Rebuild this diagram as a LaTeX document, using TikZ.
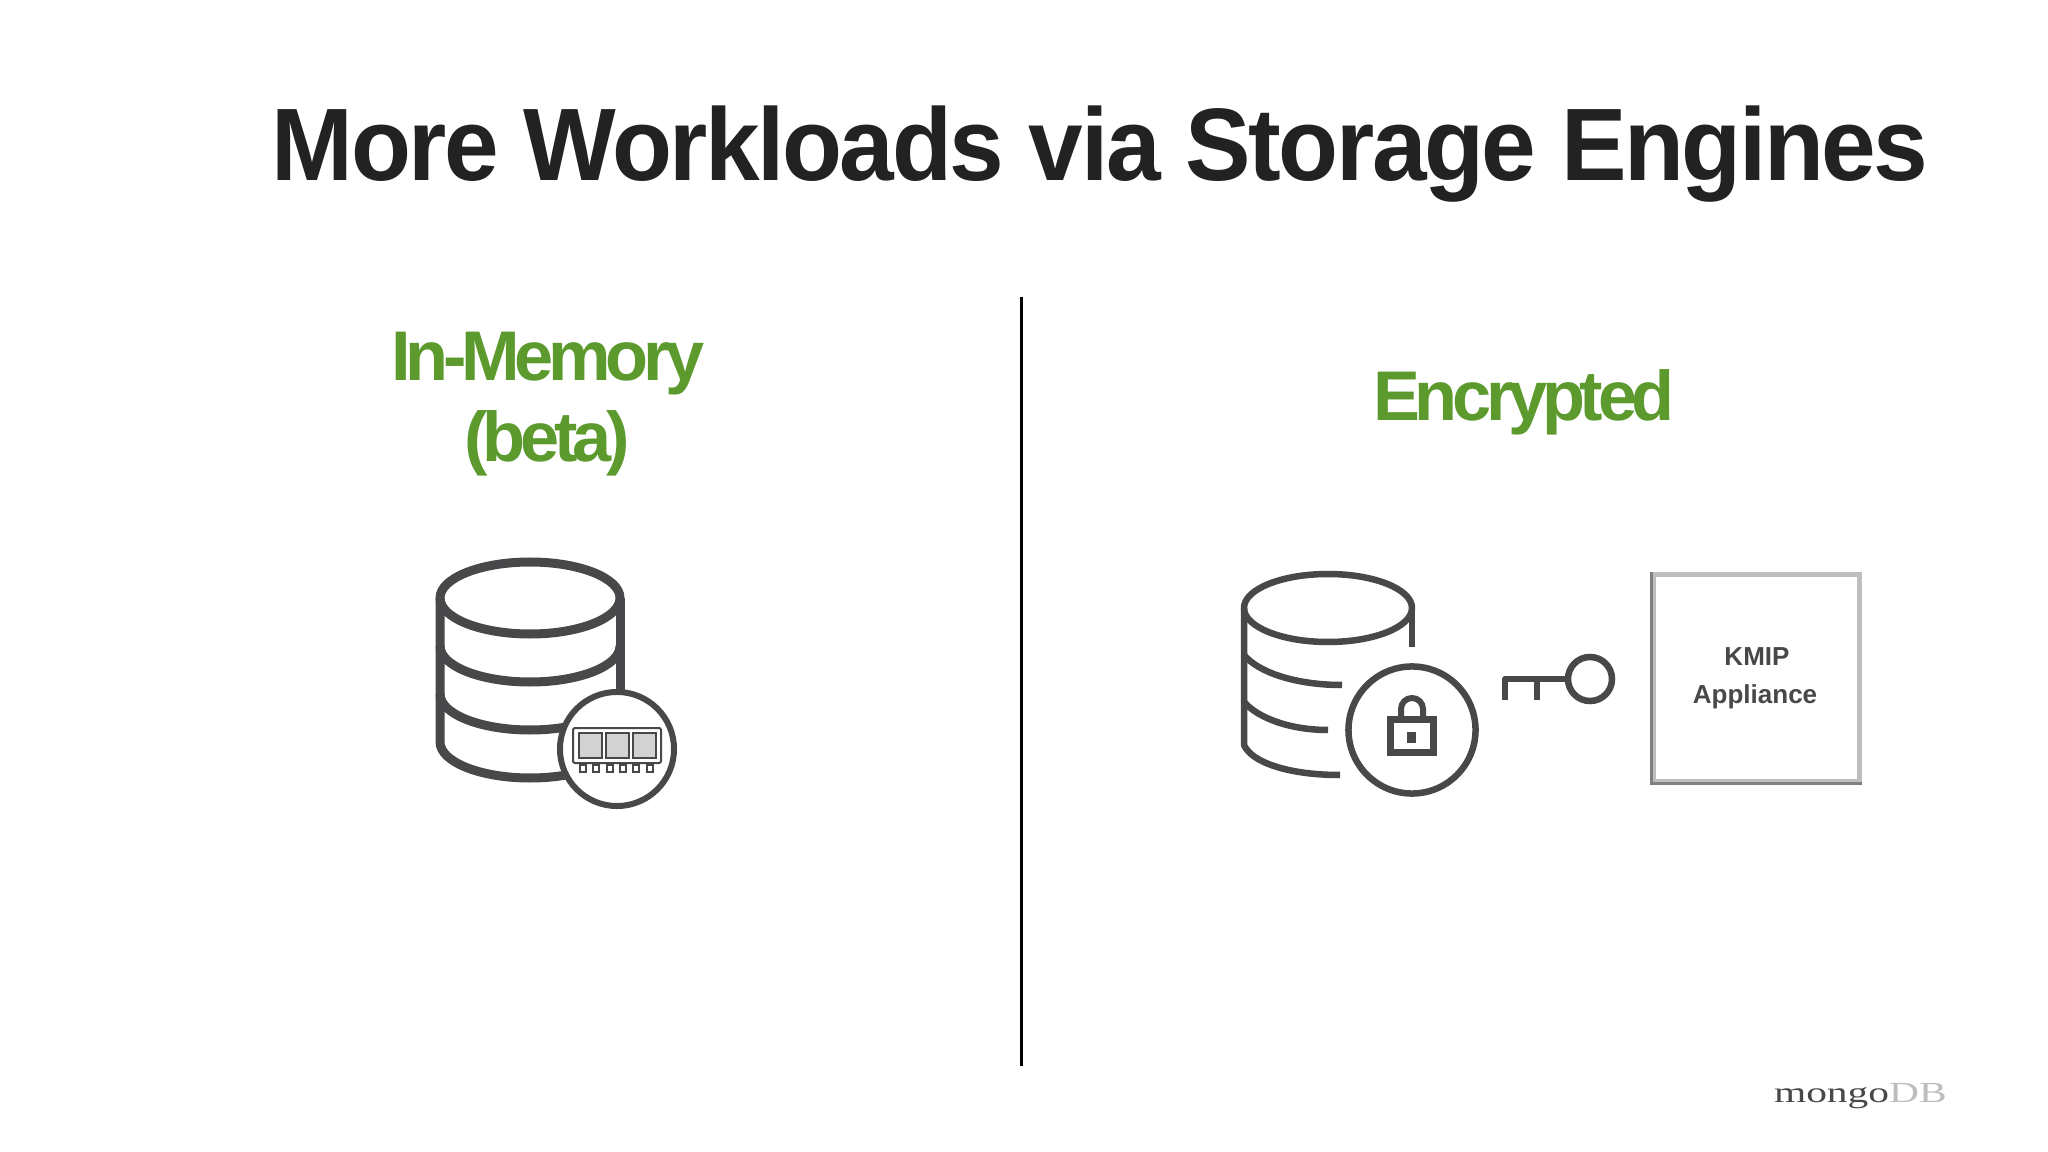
\documentclass[tikz,border=0pt]{standalone}
\usepackage{fontspec}
\setmainfont{Liberation Sans}
\newfontfamily\headfont[LetterSpace=-2.5]{Liberation Sans}
\newfontfamily\greenfont[LetterSpace=-7.5]{Liberation Sans}
\newfontfamily\logofont{Liberation Serif}
\definecolor{icongray}{HTML}{48484A}
\definecolor{leafgreen}{HTML}{5C9A2E}
\definecolor{headblack}{HTML}{222222}
\definecolor{boxgray}{HTML}{808080}
\definecolor{boxlight}{HTML}{BEBEBE}
\definecolor{chipfill}{HTML}{D2D2D2}
\definecolor{dbgray}{HTML}{BDBDC0}
\tikzset{
	headline/.style={font=\headfont\fontsize{29.3pt}{32pt}\selectfont\bfseries,text=headblack,anchor=base,inner sep=0pt,xscale=0.953,transform shape},
	subhead/.style={font=\greenfont\fontsize{20pt}{24pt}\selectfont\bfseries,text=leafgreen,anchor=base,inner sep=0pt},
	iconline/.style={draw=icongray,line width=0.09cm,line join=round},
	thinline/.style={draw=icongray,line width=0.065cm,line join=round},
	kmiptext/.style={font=\fontsize{7.4pt}{9pt}\selectfont\bfseries,text=icongray,anchor=base,inner sep=0pt}
}
\begin{document}
\begin{tikzpicture}[x=0.01cm,y=-0.01cm]
\useasboundingbox (0,0) rectangle (2048,1152);
% headings
\node[headline] (title) at (1100,181) {More Workloads via Storage Engines};
\node[subhead] (inmem) at (548,381) {In-Memory};
\node[subhead] (beta) at (547,462) {(beta)};
\node[subhead] (encr) at (1524,421) {Encrypted};
% divider
\coordinate (divtop) at (1021.5,297);
\coordinate (divbot) at (1021.5,1066);
\draw[black,line width=0.03cm] (divtop) -- (divbot);
% left database
\draw[iconline] (530,598) ellipse [x radius=90,y radius=36];
\draw[iconline] (440,598) -- (440,742) arc [start angle=180,end angle=0,x radius=90,y radius=36];
\draw[iconline] (620,598) -- (620,742);
\foreach \y in {646,694} {
	\draw[iconline] (440,\y) arc [start angle=180,end angle=0,x radius=90,y radius=36];
}
\node[circle,draw=icongray,fill=white,line width=0.06cm,minimum size=1.14cm,inner sep=0pt] (ramdisc) at (617,749) {};
\draw[draw=icongray,line width=0.02cm,rounded corners=0.02cm] (573,728) rectangle (661,763);
\foreach \x in {579,606,633} {
	\draw[draw=icongray,line width=0.02cm,fill=chipfill] (\x,733) rectangle ++(23,25);
}
\foreach \x in {580,593,607,620,633,647} {
	\draw[draw=icongray,line width=0.02cm] (\x,765) rectangle ++(6,7);
}
% right database
\draw[thinline] (1328,608) ellipse [x radius=84,y radius=34];
\draw[thinline] (1412,608) -- (1412,647);
\draw[thinline] (1244,608) -- (1244,745) .. controls (1252,763) and (1290,775) .. (1340,775);
\draw[thinline] (1244,655) .. controls (1258,672) and (1295,685) .. (1342,685);
\draw[thinline] (1244,702) .. controls (1258,718) and (1290,730) .. (1328,730);
% lock
\node[circle,draw=icongray,line width=0.065cm,minimum size=1.27cm,inner sep=0pt] (lockdisc) at (1412,730) {};
\draw[draw=icongray,line width=0.07cm] (1390.5,719.5) rectangle (1433.5,752.5);
\draw[draw=icongray,line width=0.06cm] (1401,717) -- (1401,709) arc [start angle=180,end angle=360,x radius=11,y radius=11] -- (1423,717);
\fill[icongray] (1407,732) rectangle (1416,743);
% key
\node[circle,draw=icongray,line width=0.065cm,minimum size=0.44cm,inner sep=0pt] (keyring) at (1590,679) {};
\coordinate (keyend) at (1505,679);
\draw[thinline] (keyring.west) -- (keyend) -- ++(0,21);
\draw[thinline] (1537,679) -- ++(0,21);
% appliance
\node[draw=boxlight,line width=0.05cm,minimum width=2.05cm,minimum height=2.06cm,inner sep=0pt] (kmipbox) at (1756.5,678) {};
\draw[boxgray,line width=0.025cm] (kmipbox.north west) -- (kmipbox.south west) -- (kmipbox.south east);
\node[kmiptext] (kmip) at (1757,666) {KMIP};
\node[kmiptext] (appl) at (1755,703) {Appliance};
% logo
\node[anchor=base west,inner sep=0pt,font=\logofont\fontsize{8.3pt}{10pt}\selectfont,xscale=1.42,transform shape] (logo) at (1773,1102) {\textcolor{icongray}{mongo}\textcolor{dbgray}{DB}};
\end{tikzpicture}
\end{document}
